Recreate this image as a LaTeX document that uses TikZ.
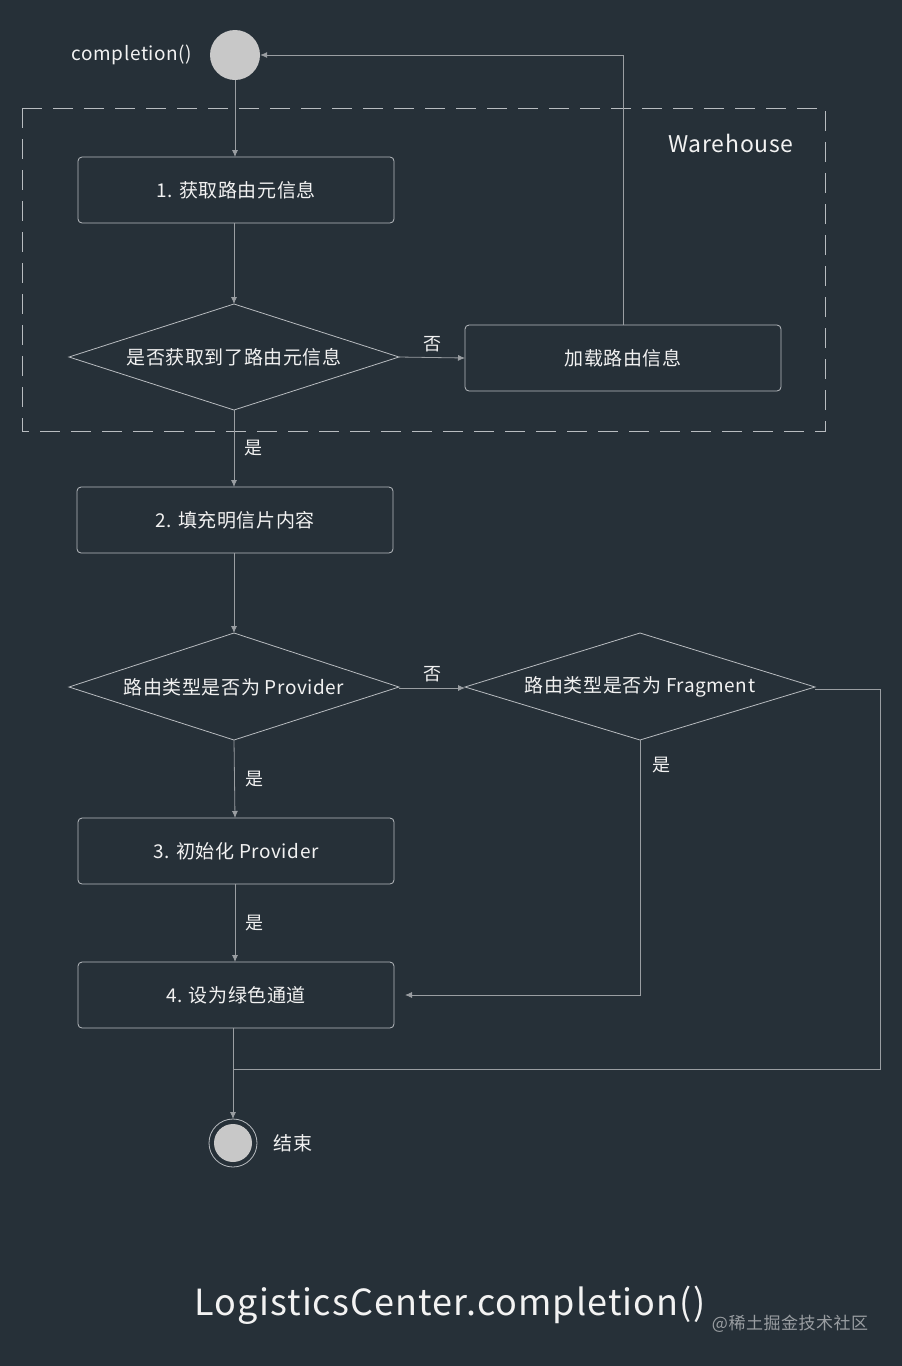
\documentclass[tikz,border=0pt]{standalone}
\usepackage{fontspec}
\setmainfont{Noto Sans CJK SC}[LetterSpace=3]
\usetikzlibrary{arrows.meta}
\definecolor{bg}{HTML}{263038}
\definecolor{ln}{HTML}{9A9EA2}
\definecolor{bd}{HTML}{B8BCC0}
\definecolor{txt}{HTML}{F2F2F2}
\definecolor{cf}{HTML}{C8C8C8}
\begin{document}
\begin{tikzpicture}[x=1pt,y=-1pt,
  every node/.style={text=txt,font=\fontsize{19}{22}\selectfont},
  box/.style={draw=bd,rounded corners=4pt,line width=0.8pt},
  dia/.style={draw=bd,line width=0.8pt},
  arr/.style={draw=ln,line width=0.8pt,-{Latex[length=7pt,width=6pt]}},
  con/.style={draw=ln,line width=0.8pt},
  lbl/.style={font=\fontsize{18}{21}\selectfont}]
\fill[bg] (0,0) rectangle (902,1366);
\useasboundingbox (0,0) rectangle (902,1366);
% start
\node[circle,fill=cf,minimum size=50pt,inner sep=0] (start) at (235,55) {};
\node (startl) at (132,55) {completion()};
% warehouse
\draw[bd,line width=1pt,dash pattern=on 20pt off 11pt] (22,108) rectangle (825,431);
\node[font=\fontsize{23}{26}\selectfont] (wh) at (731,143) {Warehouse};
% boxes
\draw[box] (78,157) rectangle (394,223); \node (b1) at (236,190) {1. 获取路由元信息};
\coordinate (b1t) at (235,157); \coordinate (b1b) at (234,223);
\draw[dia] (69,357)--(234,304)--(399,357)--(234,410)--cycle; \node (d1) at (234,357) {是否获取到了路由元信息};
\coordinate (d1t) at (234,304); \coordinate (d1r) at (399,357); \coordinate (d1b) at (234,410);
\draw[box] (465,325) rectangle (781,391); \node (load) at (623,358) {加载路由信息};
\coordinate (loadl) at (465,358); \coordinate (loadt) at (623,325);
\draw[box] (77,487) rectangle (393,553); \node (b2) at (235,520) {2. 填充明信片内容};
\coordinate (b2t) at (234,487); \coordinate (b2b) at (234,553);
\draw[dia] (69,687)--(234,633)--(399,687)--(234,740)--cycle; \node (d2) at (234,687) {路由类型是否为 Provider};
\coordinate (d2t) at (234,633); \coordinate (d2r) at (399,688); \coordinate (d2b) at (234,740);
\draw[dia] (465,687)--(640,633)--(815,687)--(640,740)--cycle; \node (d3) at (640,687) {路由类型是否为 Fragment};
\coordinate (d3l) at (465,688); \coordinate (d3r) at (815,689); \coordinate (d3b) at (640,740);
\draw[box] (78,818) rectangle (394,884); \node (b3) at (236,851) {3. 初始化 Provider};
\coordinate (b3t) at (235,818); \coordinate (b3b) at (235,884);
\draw[box] (78,962) rectangle (394,1028); \node (b4) at (236,995) {4. 设为绿色通道};
\coordinate (b4t) at (235,962); \coordinate (b4r) at (405,995); \coordinate (b4b) at (233,1028);
% end
\node[circle,draw=bd,line width=0.8pt,minimum size=48pt,inner sep=0] (endo) at (233,1143) {};
\node[circle,fill=cf,minimum size=38pt,inner sep=0] (endi) at (233,1143) {};
\node (endl) at (293,1143) {结束};
\coordinate (endt) at (233,1119);
% connectors
\draw[arr] (start) -- (b1t);
\draw[arr] (b1b) -- (d1t);
\draw[arr] (d1r) -- node[above=2pt,lbl]{否} (loadl);
\draw[arr] (loadt) |- (start.east);
\draw[arr] (d1b) -- node[right=7pt,lbl]{是} (b2t);
\draw[arr] (b2b) -- (d2t);
\draw[arr] (d2r) -- node[above=2pt,lbl]{否} (d3l);
\draw[arr] (d2b) -- node[right=7pt,lbl]{是} (b3t);
\draw[arr] (b3b) -- node[right=7pt,lbl]{是} (b4t);
\draw[arr] (d3b) -- node[pos=0.1,right=9pt,lbl]{是} (640,995) -- (b4r);
\draw[con] (d3r) -- (880,689) -- (880,1069) -- (233,1069);
\draw[arr] (b4b) -- (endt);
% title
\node[font=\fontsize{36}{42}\selectfont] (title) at (450,1305) {LogisticsCenter.completion()};
\node[text=ln,font=\fontsize{17}{20}\selectfont] (wm) at (790,1324) {@稀土掘金技术社区};
\end{tikzpicture}
\end{document}
